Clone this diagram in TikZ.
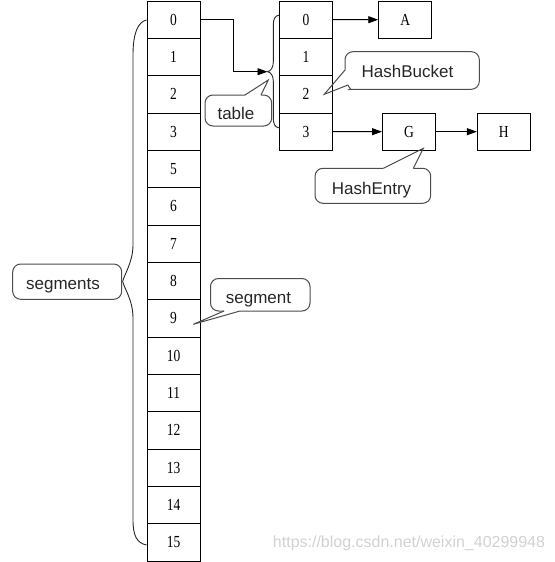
\documentclass[tikz,border=0pt]{standalone}
\usepackage{fontspec}
\setmainfont{Liberation Serif}
\newfontfamily\calloutfont{Liberation Sans}
\usetikzlibrary{arrows.meta}
\tikzset{
  cell/.style={draw=black, line width=0.9pt, minimum width=53pt, minimum height=37.33pt, inner sep=0pt, font=\fontsize{13.5}{15}\selectfont},
  link/.style={draw=black, line width=0.9pt, -{Triangle[length=10pt,width=7pt]}},
  callout/.style={draw=black!70, line width=1pt, rounded corners=8pt},
  calloutline/.style={draw=black!70, line width=1pt},
  callouttext/.style={inner sep=0pt, anchor=base, font=\calloutfont\fontsize{17}{20}\selectfont, text=black!85},
  brace/.style={draw=black!85, line width=0.9pt},
  wm/.style={inner sep=0pt, text=black!18},
}
\newcommand{\dg}[1]{\scalebox{1}[1.25]{#1}}
\begin{document}
\begin{tikzpicture}[x=1pt,y=-1pt]
\useasboundingbox (0,0) rectangle (554,562);
% segments column
\foreach \l [count=\i from 0] in {0,1,2,3,5,6,7,8,9,10,11,12,13,14,15}
  \node[cell] (s\i) at (173.5,{1+37.33*(\i+0.5)}) {\dg{\l}};
% table column
\foreach \l in {0,1,2,3}
  \node[cell] (t\l) at (306,{1+37.33*(\l+0.5)}) {\dg{\l}};
% entries
\node[cell] (A) at (405.2,19.7) {\dg{A}};
\node[cell] (G) at (409,131.7) {\dg{G}};
\node[cell] (H) at (503.8,131.7) {\dg{H}};
% arrows
\draw[link] (t0.east) -- (A.west);
\draw[link] (t3.east) -- (G.west);
\draw[link] (G.east) -- (H.west);
\coordinate (tb) at (267.5,71.7);
\draw[link] (s0.east) -- ++(33.3,0) |- (tb);
% table brace
\draw[brace] (279.5,15) .. controls (275,15.5) and (273.3,19) .. (273.3,25) -- (273.3,62)
  .. controls (273.3,67) and (271,71.2) .. (tb)
  .. controls (271,72.2) and (273.3,76) .. (273.3,81) -- (273.3,118)
  .. controls (273.3,124) and (275,127.5) .. (279.5,128);
% segments brace
\coordinate (sb) at (122.7,281.5);
\draw[brace] (146.5,20) .. controls (138,22) and (133,33) .. (133,55) -- (133,245)
  .. controls (133,262) and (124,275) .. (sb)
  .. controls (124,288) and (133,300) .. (133,318) -- (133,520)
  .. controls (133,536) and (137,543) .. (146.5,545);
% callout: table
\node[callouttext] (tbltxt) at (236,119.5) {table};
\draw[callout] (261,95) -- (271.7,95) -- (271.7,126) -- (205,126) -- (205,95) -- (245,95);
\draw[calloutline] (245,95) -- (268.3,80) -- (261,95);
% callout: HashBucket
\node[callouttext] (hbtxt) at (407.5,77.5) {HashBucket};
\draw[callout] (348,85) .. controls (349,88) and (352,89.3) .. (358,89.3) -- (479.3,89.3) -- (479.3,51.7) -- (345,51.7) -- (345,70);
\draw[calloutline] (345,70) -- (324.3,94.3) -- (348,85);
% callout: HashEntry
\node[callouttext] (hetxt) at (371.5,194) {HashEntry};
\draw[callout] (413.3,168.3) -- (430.7,168.3) -- (430.7,203.3) -- (315,203.3) -- (315,168.3) -- (383.3,168.3);
\draw[calloutline] (383.3,168.3) -- (423.3,148.3) -- (413.3,168.3);
% callout: segments
\node[callouttext] (sgstxt) at (63,289) {segments};
\draw[callout] (12.7,264) rectangle (121.7,299.3);
% callout: segment
\node[callouttext] (sgtxt) at (258.5,303) {segment};
\draw[callout] (224,311) -- (210.5,311) -- (210.5,278.5) -- (310,278.5) -- (310,311) -- (240,311);
\draw[calloutline] (224,311) -- (193.3,324.3) -- (240,311);
% watermark
\node[wm] (wmark) at (409,543) {\resizebox{272pt}{!}{\calloutfont https://blog.csdn.net/weixin\_40299948}};
\end{tikzpicture}
\end{document}
